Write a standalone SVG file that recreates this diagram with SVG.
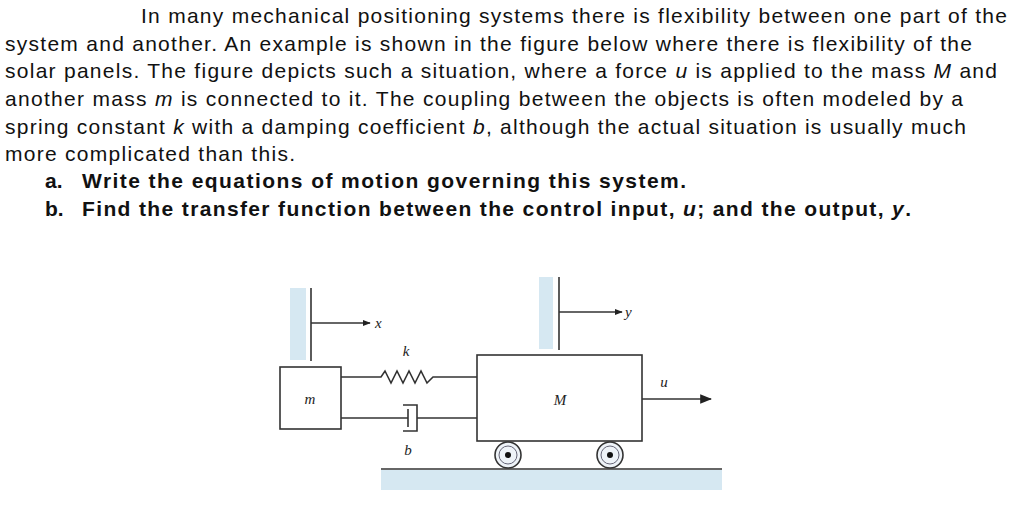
<svg xmlns="http://www.w3.org/2000/svg" width="1024" height="515" viewBox="0 0 1024 515">
<defs>
<style>
.t{font-family:"Liberation Sans",Arial,sans-serif;font-size:21px;fill:#111}
.b{font-weight:bold}
.s{font-family:"Liberation Serif","Times New Roman",serif;font-style:italic;font-size:15px;fill:#222}
.l{stroke:#333;stroke-width:1.6;fill:none}
.sh{fill:#d6e8f2}
</style>
<marker id="ah" viewBox="0 0 10 10" refX="9" refY="5" markerWidth="8" markerHeight="8" markerUnits="userSpaceOnUse" orient="auto"><path d="M0,1 L10,5 L0,9 Z" fill="#222"/></marker>
<marker id="ah2" viewBox="0 0 10 10" refX="9" refY="5" markerWidth="12" markerHeight="12" markerUnits="userSpaceOnUse" orient="auto"><path d="M0,1 L10,5 L0,9 Z" fill="#222"/></marker>
</defs>
<rect width="1024" height="515" fill="#fff"/>
<g id="text">
<text class="t" x="141" y="23" textLength="866">In many mechanical positioning systems there is flexibility between one part of the</text>
<text class="t" x="5" y="51" textLength="967">system and another. An example is shown in the figure below where there is flexibility of the</text>
<text class="t" x="5" y="78" textLength="992">solar panels. The figure depicts such a situation, where a force <tspan font-style="italic">u</tspan> is applied to the mass <tspan font-style="italic">M</tspan> and</text>
<text class="t" x="5" y="106" textLength="958">another mass <tspan font-style="italic">m</tspan> is connected to it. The coupling between the objects is often modeled by a</text>
<text class="t" x="5" y="134" textLength="961">spring constant <tspan font-style="italic">k</tspan> with a damping coefficient <tspan font-style="italic">b</tspan>, although the actual situation is usually much</text>
<text class="t" x="5" y="161" textLength="290">more complicated than this.</text>
<text class="t b" x="45" y="188">a.</text>
<text class="t b" x="82" y="188" textLength="604">Write the equations of motion governing this system.</text>
<text class="t b" x="45" y="216">b.</text>
<text class="t b" x="82" y="216" textLength="829">Find the transfer function between the control input, <tspan font-style="italic">u</tspan>; and the output, <tspan font-style="italic">y</tspan>.</text>
</g>
<g id="ground"><rect class="sh" x="381" y="470" width="341" height="20"/><line class="l" x1="381" y1="469" x2="722" y2="469"/></g>
<g id="wall-x"><rect class="sh" x="290" y="288" width="16" height="72"/><line class="l" x1="311" y1="288" x2="311" y2="361"/></g>
<g id="wall-y"><rect class="sh" x="539" y="277" width="14" height="72"/><line class="l" x1="559" y1="277" x2="559" y2="350"/></g>
<g id="mass-m"><rect class="l" x="280" y="367" width="61" height="62"/><text class="s" x="310" y="404" text-anchor="middle">m</text></g>
<g id="mass-M"><rect class="l" x="477" y="355" width="165" height="86"/><text class="s" x="560" y="405" text-anchor="middle" font-size="16">M</text></g>
<g id="wheels">
<circle cx="508" cy="455" r="13" fill="#eef3f8" stroke="#333" stroke-width="1.6"/><circle cx="508" cy="455" r="9" fill="none" stroke="#667" stroke-width="1"/><circle cx="508" cy="455" r="3" fill="#111"/>
<circle cx="610" cy="455" r="13" fill="#eef3f8" stroke="#333" stroke-width="1.6"/><circle cx="610" cy="455" r="9" fill="none" stroke="#667" stroke-width="1"/><circle cx="610" cy="455" r="3" fill="#111"/>
</g>
<g id="connectors">
<line class="l" x1="311" y1="323" x2="370" y2="323" marker-end="url(#ah)"/>
<line class="l" x1="559" y1="312" x2="622" y2="312" marker-end="url(#ah)"/>
<line class="l" x1="642" y1="399" x2="711" y2="399" stroke-width="2" marker-end="url(#ah2)"/>
<polyline class="l" points="341,377 381,377 385,371 391,383 397,371 403,383 409,371 415,383 421,371 427,383 433,377 477,377"/>
<polyline class="l" points="341,418 408,418"/>
<polyline class="l" points="403,405 417,405 417,431 403,431"/>
<line class="l" x1="408" y1="409" x2="408" y2="427"/>
<line class="l" x1="417" y1="418" x2="477" y2="418"/>
</g>
<g id="labels">
<text class="s" x="375" y="328">x</text>
<text class="s" x="625" y="317">y</text>
<text class="s" x="406" y="356" text-anchor="middle">k</text>
<text class="s" x="408" y="455" text-anchor="middle">b</text>
<text class="s" x="664" y="387" text-anchor="middle">u</text>
</g>
</svg>
